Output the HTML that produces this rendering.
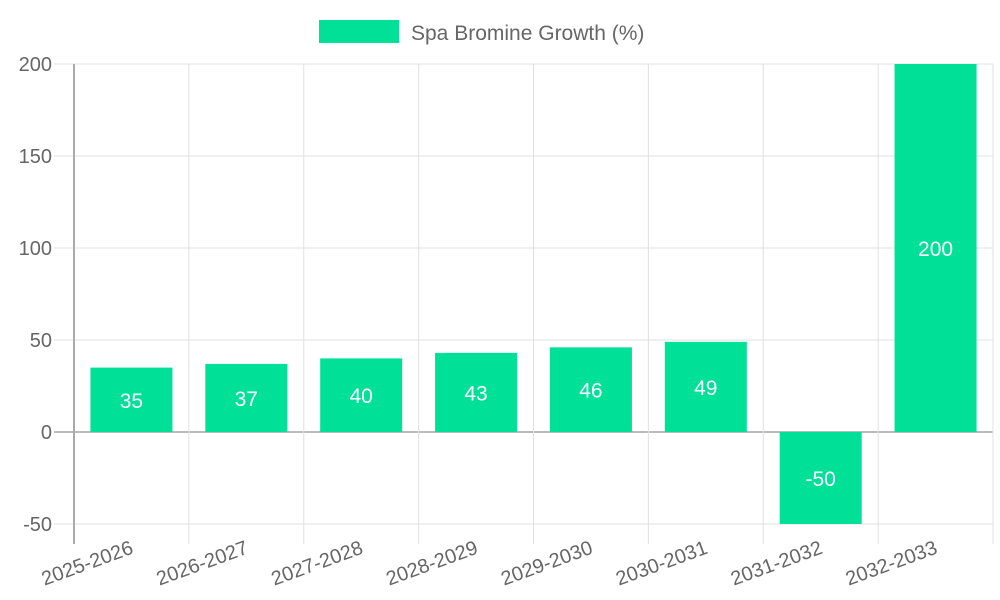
<!DOCTYPE html>
<html><head><meta charset="utf-8"><style>
body{margin:0;background:#fff;}
svg{display:block;font-family:"Liberation Sans",sans-serif;}
</style></head><body>
<svg id="c" width="1000" height="600">
<g>
<rect x="319" y="20" width="80" height="23" fill="#00e096"/>
<text x="411" y="40" font-size="21" fill="#666">Spa Bromine Growth (%)</text>
</g>
</svg>
<script>
const categories=["2025-2026","2026-2027","2027-2028","2028-2029","2029-2030","2030-2031","2031-2032","2032-2033"];
const values=[35,37,40,43,46,49,-50,200];
const yTicks=[-50,0,50,100,150,200];
const svg=document.getElementById('c');
const NS='http://www.w3.org/2000/svg';
const L=74,R=993,T=64,B=524,yMin=-50,yMax=200;
const y=v=>B-(v-yMin)/(yMax-yMin)*(B-T);
const bw=(R-L)/categories.length;
const x=i=>L+bw*i;
function mk(t,a){const e=document.createElementNS(NS,t);for(const k in a)e.setAttribute(k,a[k]);svg.appendChild(e);return e;}
yTicks.forEach(v=>{
 const l=mk('line',{x1:54,x2:R,y1:y(v),y2:y(v),stroke:v===0?'#bbb':'#e0e0e0','stroke-width':v===0?2:1});
 
 
 const t=mk('text',{x:52,y:y(v)+7,'text-anchor':'end','font-size':20,fill:'#666'});
 t.textContent=v;
 
 
});
for(let i=0;i<=categories.length;i++){
 const l=mk('line',{x1:x(i),x2:x(i),y1:T,y2:544,stroke:i===0?'#aaa':'#e0e0e0','stroke-width':i===0?2:1});
 
 
}
categories.forEach((c,i)=>{
 const cx=x(i)+bw/2, v=values[i];
 const top=y(Math.max(v,0)), bot=y(Math.min(v,0));
 const r=mk('rect',{x:cx-41,y:top,width:82,height:bot-top,fill:'#00e096'});
 
 
 const t=mk('text',{x:cx,y:(top+bot)/2+8,'text-anchor':'middle','font-size':21,fill:'#fff'});
 t.textContent=v;
 
 
 const lx=cx+3, ly=553;
 const xl=mk('text',{x:lx,y:ly,'text-anchor':'end','font-size':20,fill:'#666',transform:`rotate(-20 ${lx} ${ly})`});
 xl.textContent=c;
 
 
});
</script>
</body></html>
